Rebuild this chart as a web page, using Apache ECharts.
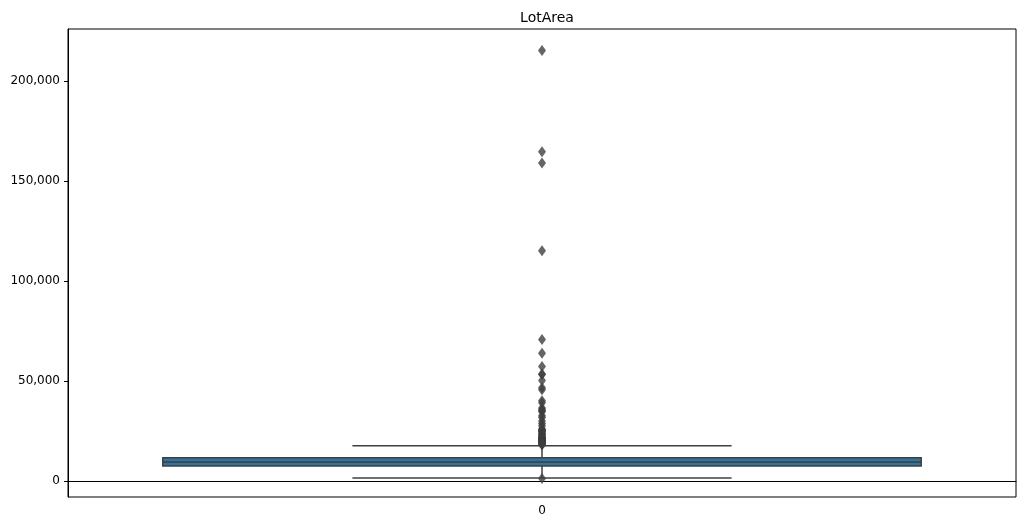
<!DOCTYPE html>
<html><head><meta charset="utf-8">
<script src="https://cdn.jsdelivr.net/npm/echarts@6/dist/echarts.min.js"></script>
<style>html,body{margin:0;padding:0;background:#fff}#c{width:1023px;height:531px}</style>
</head><body><div id="c"></div>
<script>
const categories = ['0'];
// [lowerWhisker, Q1, median, Q3, upperWhisker]
const boxStats = [1477, 7553, 9478, 11601, 17671];
const outliers = [1300, 215245, 164660, 159000, 115149, 70761, 63887, 57200, 53504, 53227, 50271, 46589, 45600,
  40094, 39104, 36500, 35760, 35133, 34650, 32668, 31770, 29959, 28698, 27650, 26178, 25419, 25339, 25286,
  25095, 24682, 24090, 23595, 23257, 22950, 22420, 21872, 21750, 21695, 21535, 21453, 21384, 21286, 20896,
  20781, 20544, 20431, 20355, 20062, 19900, 19690, 19508, 19378, 19296, 19138, 18890, 18800, 18450, 18386, 18000];
const yTicks = [0, 50000, 100000, 150000, 200000];

const chart = echarts.init(document.getElementById('c'));
const edge = '#3f3f3f';
chart.setOption({
  animation: false,
  title: {text: 'LotArea', left: 542, top: 6, textAlign: 'center',
    textStyle: {fontFamily: 'DejaVu Sans', fontSize: 14, fontWeight: 'normal', color: '#000'}},
  grid: {left: 68, right: 7, top: 29, bottom: 34, show: true, borderColor: '#000', borderWidth: 1},
  xAxis: {type: 'category', data: categories, boundaryGap: true,
    axisLine: {lineStyle: {color: '#000'}}, axisTick: {alignWithLabel: true, length: 4, lineStyle: {color: '#000'}},
    axisLabel: {color: '#000', fontFamily: 'DejaVu Sans', fontSize: 12}},
  yAxis: {type: 'value', min: -8000, max: 226000, splitLine: {show: false},
    axisLine: {show: true, lineStyle: {color: '#000'}},
    axisTick: {show: true, length: 4, customValues: yTicks, lineStyle: {color: '#000'}},
    axisLabel: {color: '#000', fontFamily: 'DejaVu Sans', fontSize: 12, customValues: yTicks}},
  series: [{
    type: 'custom',
    data: [[0].concat(boxStats)],
    renderItem: function (params, api) {
      const x = api.value(0);
      const bw = api.size([1, 0])[0];
      const c = api.coord([x, 0])[0];
      const p = i => api.coord([x, api.value(i)])[1];
      const lw = p(1), q1 = p(2), md = p(3), q3 = p(4), uw = p(5);
      const hb = bw * 0.4, hc = bw * 0.2;
      const ls = {stroke: edge, lineWidth: 1.5};
      return {type: 'group', children: [
        {type: 'line', shape: {x1: c, y1: q3, x2: c, y2: uw}, style: ls},
        {type: 'line', shape: {x1: c, y1: q1, x2: c, y2: lw}, style: ls},
        {type: 'line', shape: {x1: c - hc, y1: uw, x2: c + hc, y2: uw}, style: ls},
        {type: 'line', shape: {x1: c - hc, y1: lw, x2: c + hc, y2: lw}, style: ls},
        {type: 'rect', shape: {x: c - hb, y: q3, width: 2 * hb, height: q1 - q3}, style: {fill: '#3274a1', stroke: edge, lineWidth: 1.5}},
        {type: 'line', shape: {x1: c - hb, y1: md, x2: c + hb, y2: md}, style: ls}
      ]};
    }
  }, {
    type: 'scatter',
    data: outliers.map(v => ['0', v]),
    symbol: 'diamond', symbolSize: [8, 11],
    itemStyle: {color: edge}
  }]
});
</script></body></html>
